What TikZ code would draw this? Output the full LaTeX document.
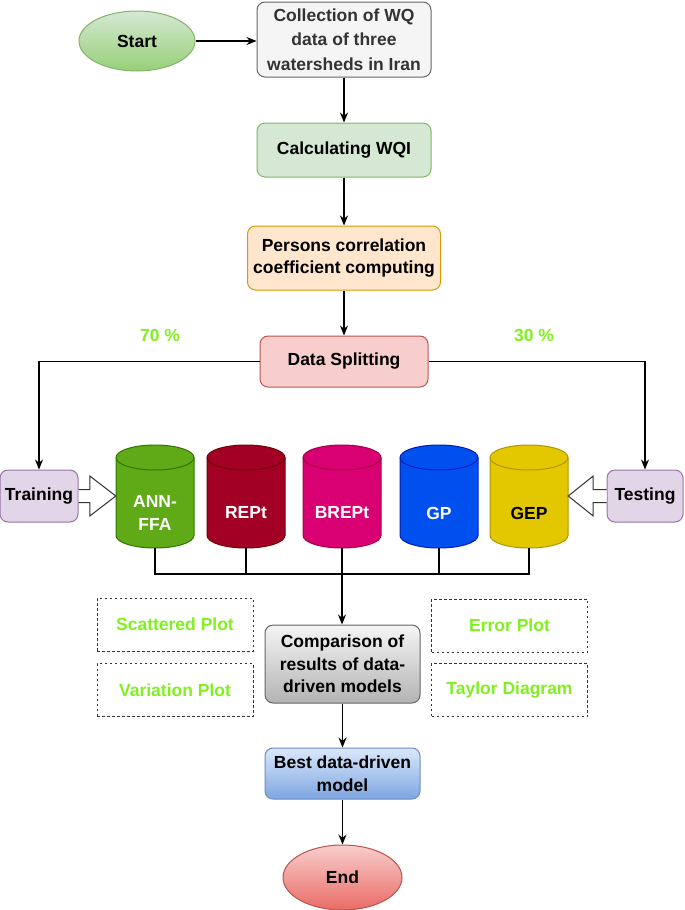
\documentclass[tikz,border=0pt]{standalone}
\usepackage{fontspec}
\setmainfont{Liberation Sans}
\usetikzlibrary{shapes.geometric,arrows.meta,calc}
\definecolor{grbg}{HTML}{F5F5F5}\definecolor{grbd}{HTML}{666666}\definecolor{grtx}{HTML}{333333}
\definecolor{gnbg}{HTML}{D5E8D4}\definecolor{gnbd}{HTML}{82B366}\definecolor{gnbot}{HTML}{97D077}
\definecolor{orbg}{HTML}{FFE6CC}\definecolor{orbd}{HTML}{D79B00}
\definecolor{rdbg}{HTML}{F8CECC}\definecolor{rdbd}{HTML}{B85450}\definecolor{rdbot}{HTML}{EA6B66}
\definecolor{pubg}{HTML}{E1D5E7}\definecolor{pubd}{HTML}{9673A6}
\definecolor{blbg}{HTML}{DAE8FC}\definecolor{blbd}{HTML}{6C8EBF}\definecolor{blbot}{HTML}{7EA6E0}
\definecolor{grbot}{HTML}{B3B3B3}
\definecolor{lbl}{HTML}{80F020}
\definecolor{annf}{HTML}{60A917}\definecolor{annb}{HTML}{2D7600}
\definecolor{repf}{HTML}{A20025}\definecolor{repb}{HTML}{6F0000}
\definecolor{brpf}{HTML}{D80073}\definecolor{brpb}{HTML}{A50040}
\definecolor{gpf}{HTML}{0050EF}\definecolor{gpb}{HTML}{001DBC}
\definecolor{gepf}{HTML}{E3C800}\definecolor{gepb}{HTML}{B09500}
\begin{document}
\begin{tikzpicture}[x=1pt,y=1pt,
  font=\fontsize{17.5}{22.5}\selectfont\bfseries,
  box/.style={draw, rounded corners=8pt, line width=1pt, align=center, inner sep=0pt},
  dbox/.style={draw=grtx, dashed, dash pattern=on 2.5pt off 2.5pt, line width=1pt, align=center, inner sep=0pt, text=lbl, minimum width=156, minimum height=53},
  ell/.style={ellipse, draw, line width=1pt, inner sep=0pt},
  arr/.style={-{Stealth[length=10pt,width=8pt]}, line width=1.2pt},
  ln/.style={line width=1.2pt},
  blk/.style={draw=black!80, fill=white, line width=1pt, line join=miter},
  cylbox/.style={inner sep=0pt, minimum width=78, minimum height=103}]
\useasboundingbox (0,0) rectangle (685,-910);

\node[ell, draw=gnbd, top color=gnbg, bottom color=gnbot, minimum width=116, minimum height=60] (start) at (137,-41) {Start};
\node[box, fill=grbg, draw=grbd, text=grtx, minimum width=174, minimum height=75, font=\fontsize{17.5}{24.5}\selectfont\bfseries] (coll) at (344,-39.5) {Collection of WQ\\data of three\\watersheds in Iran};
\node[box, fill=gnbg, draw=gnbd, minimum width=174, minimum height=54] (wqi) at (344,-150) {Calculating WQI};
\node[box, fill=orbg, draw=orbd, minimum width=193, minimum height=64] (pers) at (344,-258) {Persons correlation\\coefficient computing};
\node[box, fill=rdbg, draw=rdbd, minimum width=168, minimum height=51] (split) at (344,-361.5) {Data Splitting};
\node[text=lbl] (p70) at (160,-335) {70 \%};
\node[text=lbl] (p30) at (534,-335) {30 \%};
\node[box, fill=pubg, draw=pubd, minimum width=78, minimum height=52] (train) at (39,-496) {Training};
\node[box, fill=pubg, draw=pubd, minimum width=76, minimum height=52] (test) at (645,-496) {Testing};

\foreach \n/\x/\f/\b/\t/\l in {ann/155/annf/annb/white/{ANN-\\FFA}, rept/246/repf/repb/white/REPt, brept/342/brpf/brpb/white/BREPt, gp/439/gpf/gpb/white/GP, gep/529/gepf/gepb/black/GEP}{
  \path[fill=\f, draw=\b, line width=1pt] (\x-39,-457.5) -- (\x-39,-535.5) arc[start angle=180, end angle=360, x radius=39, y radius=12.5] -- (\x+39,-457.5) arc[start angle=0, end angle=180, x radius=39, y radius=12.5] -- cycle;
  \draw[\b, line width=1pt] (\x-39,-457.5) arc[start angle=180, end angle=360, x radius=39, y radius=12.5];
  \node[cylbox] (\n) at (\x,-496.5) {};
  \node[text=\t, align=center] (\n txt) at (\x,-513) {\l};
}

% block arrows
\path[blk] let \p1=(train.east), \p2=(ann.west) in
  (\x1,\y1+6.5) -- (\x2-26,\y1+6.5) -- (\x2-26,\y1+20) -- (\x2,\y1) -- (\x2-26,\y1-20) -- (\x2-26,\y1-6.5) -- (\x1,\y1-6.5);
\path[blk] let \p1=(test.west), \p2=(gep.east) in
  (\x1,\y1+6.5) -- (\x2+25,\y1+6.5) -- (\x2+25,\y1+20) -- (\x2,\y1) -- (\x2+25,\y1-20) -- (\x2+25,\y1-6.5) -- (\x1,\y1-6.5);

\coordinate (merge) at (342,-574);
\node[box, draw=grbd, top color=grbg, bottom color=grbot, minimum width=155, minimum height=78] (comp) at (342.5,-664) {Comparison of\\results of data-\\driven models};
\node[box, draw=blbd, top color=blbg, bottom color=blbot, minimum width=155, minimum height=51] (best) at (342.5,-773.5) {Best data-driven\\model};
\node[ell, draw=rdbd, top color=rdbg, bottom color=rdbot, minimum width=119, minimum height=65] (end) at (342.5,-877.5) {End};

\node[dbox] (scat) at (175,-624.5) {Scattered Plot};
\node[dbox] (var) at (175,-690) {Variation Plot};
\node[dbox] (err) at (509.5,-625.5) {Error Plot};
\node[dbox] (tay) at (509.5,-690) {Taylor Diagram};

% connectors
\draw[arr] (start.east) -- (start.east -| coll.west);
\draw[arr] (coll) -- (wqi);
\draw[arr] (wqi) -- (pers);
\draw[arr] (pers) -- (split);
\draw[arr] (split.west) -| (train.north);
\draw[arr] (split.east) -| (test.north);
\draw[ln] (ann.south) -- (ann.south |- merge) -- (gep.south |- merge) -- (gep.south);
\draw[ln] (rept.south) -- (rept.south |- merge);
\draw[ln] (gp.south) -- (gp.south |- merge);
\draw[arr] (brept.south) -- (brept.south |- comp.north);
\draw[arr] (comp) -- (best);
\draw[arr] (best) -- (end);
\end{tikzpicture}
\end{document}
